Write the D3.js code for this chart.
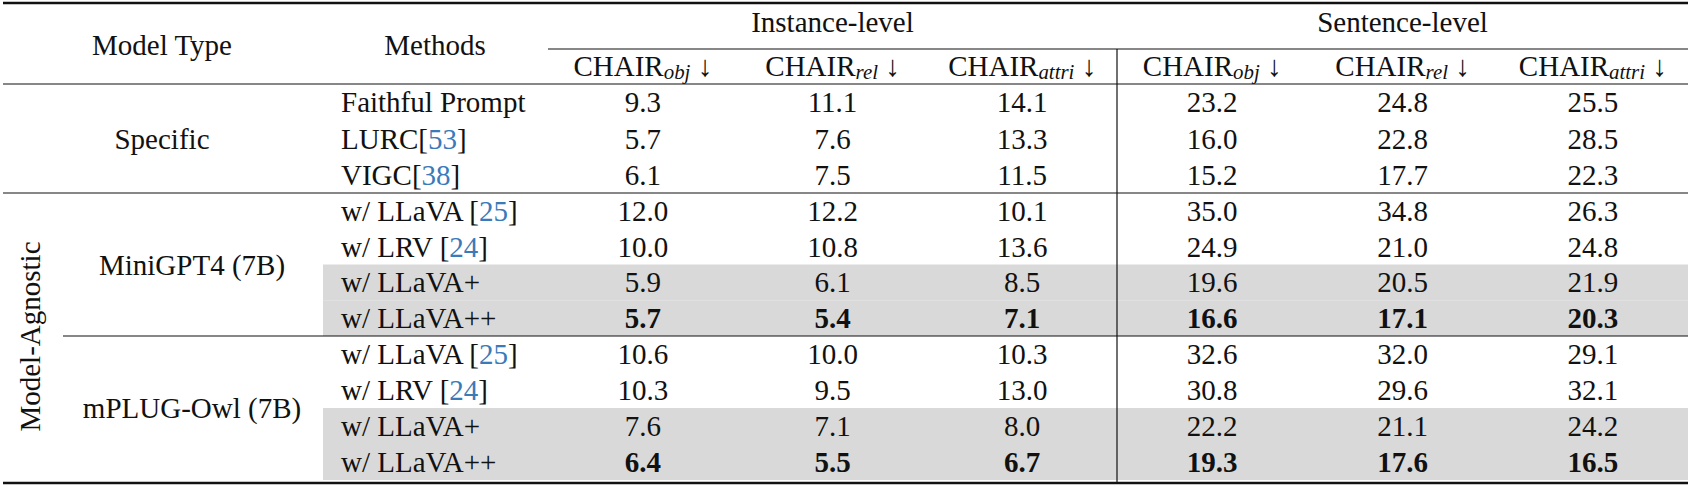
<!DOCTYPE html>
<html>
<head>
<meta charset="utf-8">
<script src="https://cdn.jsdelivr.net/npm/d3@7"></script>
<style>
  body { margin: 0; background: #fff; }
  text { font-family: "Liberation Serif", "DejaVu Serif", serif; fill: #111; }
</style>
</head>
<body>
<script>
// table content
const metrics = ["obj", "rel", "attri"];
const groups = ["Instance-level", "Sentence-level"];
const modelTypes = ["Specific", "MiniGPT4 (7B)", "mPLUG-Owl (7B)"];
const methods = [
  [["Faithful Prompt", null], ["LURC", "53"], ["VIGC", "38"]],
  [["w/ LLaVA ", "25"], ["w/ LRV ", "24"], ["w/ LLaVA+", null], ["w/ LLaVA++", null]],
  [["w/ LLaVA ", "25"], ["w/ LRV ", "24"], ["w/ LLaVA+", null], ["w/ LLaVA++", null]]
];
const values = [
  [[9.3, 11.1, 14.1, 23.2, 24.8, 25.5], [5.7, 7.6, 13.3, 16.0, 22.8, 28.5], [6.1, 7.5, 11.5, 15.2, 17.7, 22.3]],
  [[12.0, 12.2, 10.1, 35.0, 34.8, 26.3], [10.0, 10.8, 13.6, 24.9, 21.0, 24.8], [5.9, 6.1, 8.5, 19.6, 20.5, 21.9], [5.7, 5.4, 7.1, 16.6, 17.1, 20.3]],
  [[10.6, 10.0, 10.3, 32.6, 32.0, 29.1], [10.3, 9.5, 13.0, 30.8, 29.6, 32.1], [7.6, 7.1, 8.0, 22.2, 21.1, 24.2], [6.4, 5.5, 6.7, 19.3, 17.6, 16.5]]
];
const shadedRows = [2, 3];   // LLaVA+ and LLaVA++ rows in the model-agnostic groups
const boldRow = 3;

const W = 1693, H = 489, FS = 29;
const svg = d3.select("body").append("svg").attr("width", W).attr("height", H);

const xL = 3, xR = 1688, xMethods = 323, xSplit = 1117, xData = 548;
const colX = d3.scaleBand().domain(d3.range(6)).range([xData, xR]);
colX.step = () => (xR - xData) / 6;
const cx = i => i < 3
  ? xData + (xSplit - xData) / 3 * (i + 0.5)
  : xSplit + (xR - xSplit) / 3 * (i - 3 + 0.5);

// row geometry
const yHeadEnd = 84;
const groupTops = [84, 193, 336];
const groupEnds = [193, 336, 480];
const rowY = (g, r) => {
  const h = (groupEnds[g] - groupTops[g]) / methods[g].length;
  return groupTops[g] + h * (r + 0.5);
};
const rowH = g => (groupEnds[g] - groupTops[g]) / methods[g].length;

// shading
[1, 2].forEach(g => shadedRows.forEach(r => {
  svg.append("rect")
    .attr("x", xMethods).attr("y", groupTops[g] + rowH(g) * r)
    .attr("width", xR - xMethods).attr("height", rowH(g))
    .attr("fill", "#d9d9d9");
}));

function hline(x1, x2, y, w) {
  svg.append("line").attr("x1", x1).attr("x2", x2).attr("y1", y).attr("y2", y)
    .attr("stroke", "#111").attr("stroke-width", w);
}
hline(xL, xR, 3, 2.6);
hline(xData, xR, 49, 1.2);
hline(xL, xR, yHeadEnd, 1.2);
hline(xL, xR, 193, 1.2);
hline(63, xR, 336, 1.2);
hline(xL, xR, 483, 2.6);
svg.append("line").attr("x1", xSplit).attr("x2", xSplit).attr("y1", 49).attr("y2", 483)
  .attr("stroke", "#111").attr("stroke-width", 1.2);

function txt(x, y, s, anchor = "middle") {
  return svg.append("text").attr("x", x).attr("y", y).attr("font-size", FS)
    .attr("text-anchor", anchor).attr("dominant-baseline", "central").text(s);
}

// header
txt(162, 45, "Model Type");
txt(435, 45, "Methods");
txt((xData + xSplit) / 2, 22, groups[0]);
txt((xSplit + xR) / 2, 22, groups[1]);
d3.range(6).forEach(i => {
  const t = svg.append("text").attr("x", cx(i)).attr("y", 66).attr("font-size", FS)
    .attr("text-anchor", "middle").attr("dominant-baseline", "central");
  t.append("tspan").text("CHAIR");
  t.append("tspan").attr("font-style", "italic").attr("font-size", FS * 0.72)
    .attr("dy", 6).text(metrics[i % 3]);
  t.append("tspan").attr("dy", -6).text(" ↓");
});

// model type labels
txt(162, rowY(0, 1), modelTypes[0]);
txt(192, (groupTops[1] + groupEnds[1]) / 2, modelTypes[1]);
txt(192, (groupTops[2] + groupEnds[2]) / 2, modelTypes[2]);
svg.append("text").attr("font-size", FS).attr("text-anchor", "middle")
  .attr("dominant-baseline", "central")
  .attr("transform", `translate(30,${(193 + 480) / 2}) rotate(-90)`)
  .text("Model-Agnostic");

// body rows
methods.forEach((rows, g) => rows.forEach((m, r) => {
  const y = rowY(g, r);
  const t = svg.append("text").attr("x", 341).attr("y", y).attr("font-size", FS)
    .attr("dominant-baseline", "central");
  t.append("tspan").text(m[0]);
  if (m[1]) {
    t.append("tspan").text("[");
    t.append("tspan").attr("fill", "#3a7ab8").text(m[1]);
    t.append("tspan").text("]");
  }
  values[g][r].forEach((v, i) => {
    txt(cx(i), y, v.toFixed(1))
      .attr("font-weight", g > 0 && r === boldRow ? "bold" : null);
  });
}));
</script>
</body>
</html>
